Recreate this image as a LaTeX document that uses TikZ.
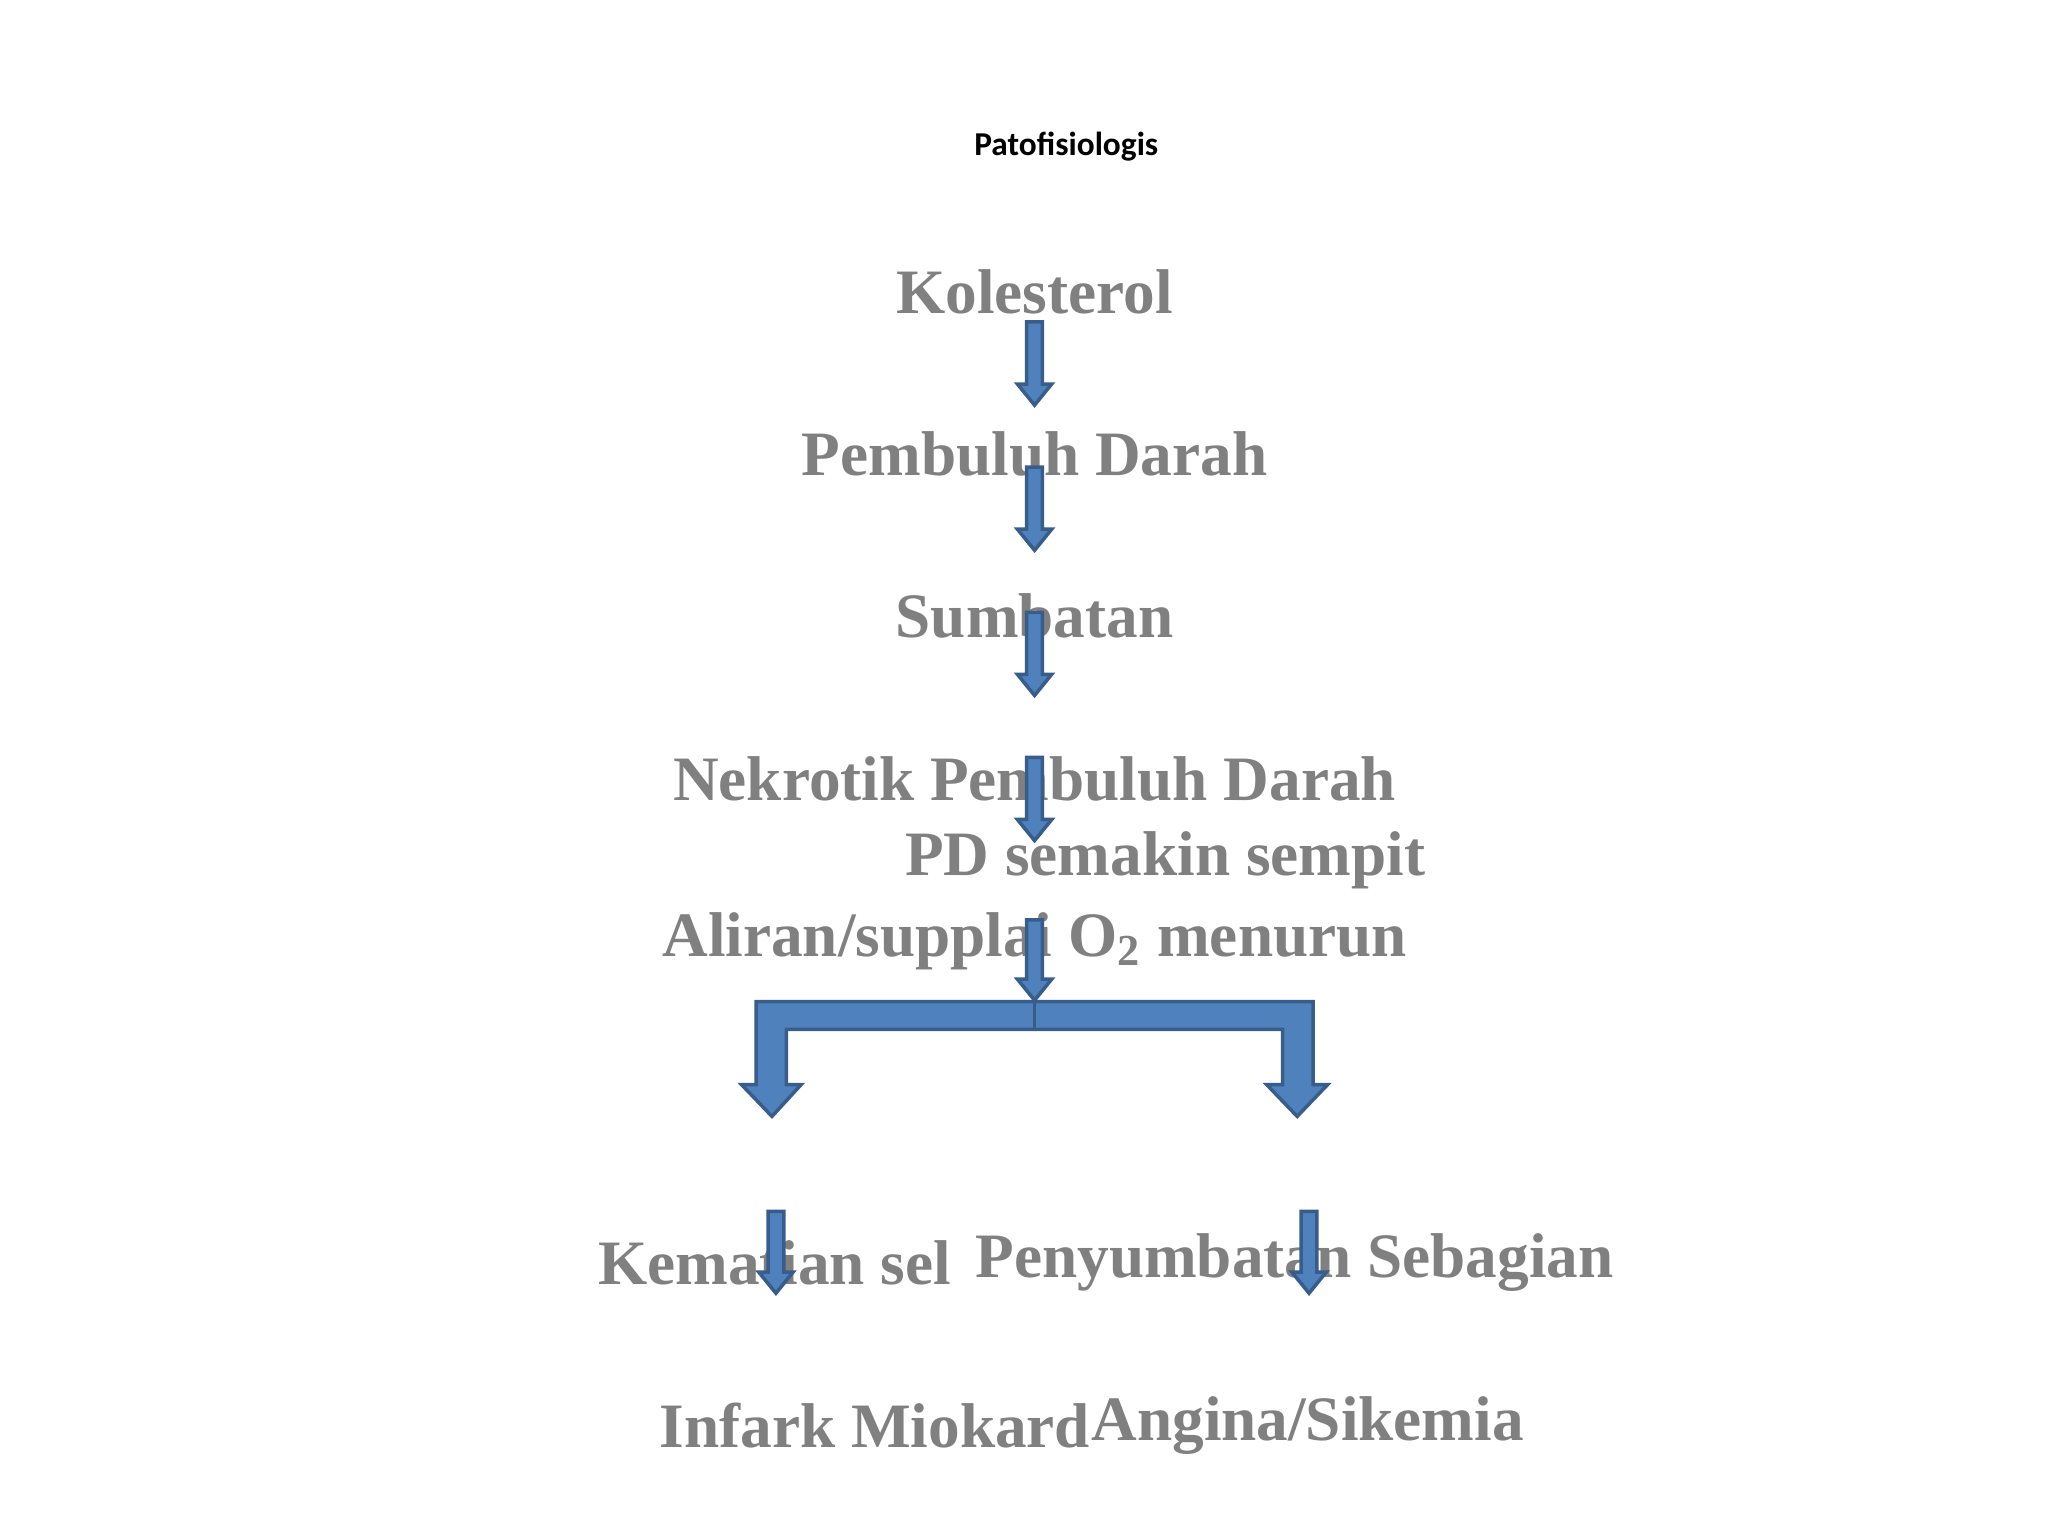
\documentclass[tikz,border=0pt]{standalone}
\usepackage{fontspec}
\setmainfont{Liberation Serif}
\newfontfamily\titlefont{Carlito}
\definecolor{txtgray}{RGB}{128,128,128}
\definecolor{arrfill}{RGB}{79,129,189}
\definecolor{arrline}{RGB}{56,93,138}
\begin{document}
\begin{tikzpicture}[x=0.013196cm,y=-0.013196cm,
  lbl/.style={text=txtgray,font=\fontsize{18}{20}\selectfont\bfseries,inner sep=0pt},
  blk/.style={fill=arrfill,draw=arrline,line width=1pt,line join=miter}]
\useasboundingbox (0,0) rectangle (1552,1164);
\node[font=\titlefont\fontsize{9.5}{11}\selectfont\bfseries] (title) at (808,111) {Patofisiologis};
\node[lbl] (k) at (784,221) {Kolesterol};
\node[lbl] (p) at (784,344) {Pembuluh Darah};
\node[lbl] (s) at (784,467) {Sumbatan};
\node[lbl] (n) at (784,590) {Nekrotik Pembuluh Darah};
\node[lbl] (pd) at (883,652) {PD semakin sempit};
\node[lbl] (a) at (784,713) {Aliran/supplai O\textsubscript{2} menurun};
\node[lbl] (km) at (587,957) {Kematian sel};
\node[lbl] (ps) at (981,957) {Penyumbatan Sebagian};
\node[lbl] (im) at (663,1080) {Infark Miokard};
\node[lbl] (as) at (991,1080) {Angina/Sikemia};
% small arrows
\foreach \cx/\ya/\yb in {784/244/307,784/354/417,784/464/527,784/574/637,784/697/758,588/918/980,992/918/980}{
  \draw[blk] (\cx-6,\ya) -- (\cx+6,\ya) -- (\cx+6,\yb-16) -- (\cx+13,\yb-16) -- (\cx,\yb) -- (\cx-13,\yb-16) -- (\cx-6,\yb-16) -- cycle;
}
% branch arrow
\draw[blk] (573,759) -- (995,759) -- (995,822) -- (1006,822) -- (983,846) -- (960,822) -- (972,822) -- (972,780)
  -- (596,780) -- (596,822) -- (607,822) -- (585,846) -- (562,822) -- (573,822) -- cycle;
\draw[arrline,line width=1pt] (784,759) -- (784,780);
\end{tikzpicture}
\end{document}
